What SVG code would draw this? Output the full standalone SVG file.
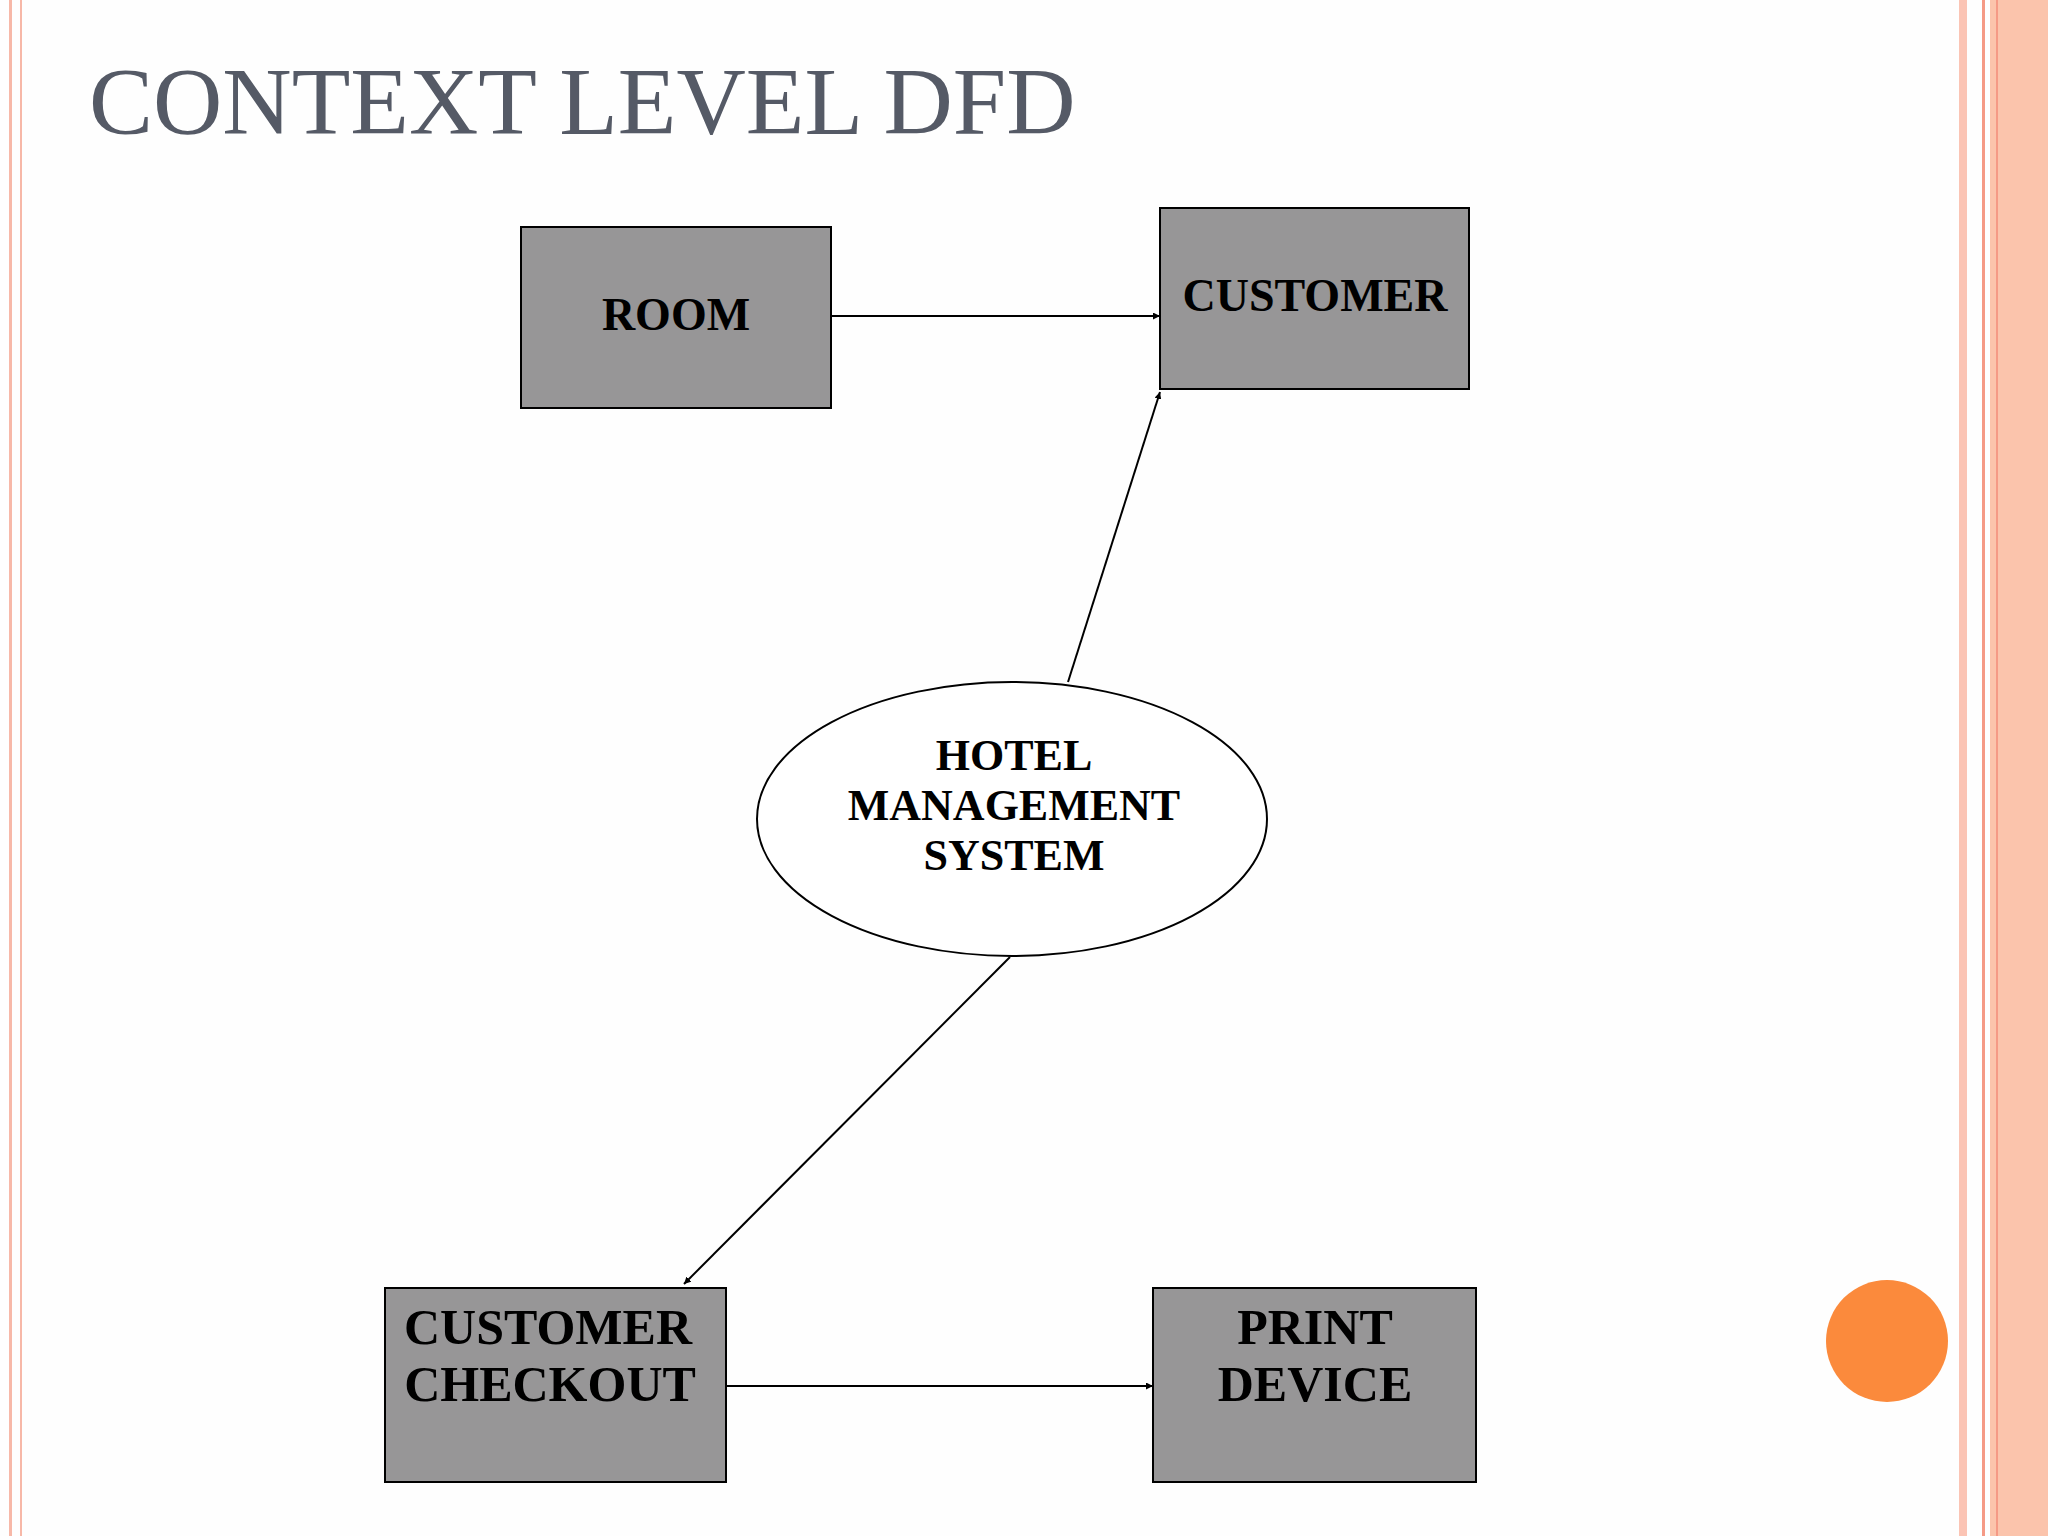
<svg xmlns="http://www.w3.org/2000/svg" width="2048" height="1536" viewBox="0 0 2048 1536">
<style>
.box{fill:#979697;stroke:#000;stroke-width:2}
.t{font-family:"Liberation Serif",serif;font-weight:bold;fill:#000;text-anchor:middle}
.c{stroke:#000;stroke-width:2;fill:none;marker-end:url(#a)}
</style>
<defs><marker id="a" viewBox="0 0 10 10" refX="10" refY="5" markerWidth="7" markerHeight="7" orient="auto" markerUnits="userSpaceOnUse"><path d="M0,0L10,5L0,10z" fill="#000"/></marker></defs>
<rect width="2048" height="1536" fill="#fefefe"/>
<rect x="9" y="0" width="3" height="1536" fill="#f7b8a8"/>
<rect x="20" y="0" width="2" height="1536" fill="#f7b8a8"/>
<rect x="1959" y="0" width="8" height="1536" fill="#fbc4b4"/>
<rect x="1982" y="0" width="3" height="1536" fill="#f59a86"/>
<rect x="1990" y="0" width="58" height="1536" fill="#fbc4ac"/>
<rect x="1996" y="0" width="2" height="1536" fill="#f59a86"/>
<text x="89" y="134" font-family="Liberation Serif,serif" font-size="96" fill="#555a66">CONTEXT LEVEL DFD</text>
<g id="connectors">
<line class="c" x1="831" y1="316" x2="1160" y2="316"/>
<line class="c" x1="1068" y1="682" x2="1160" y2="392"/>
<line class="c" x1="1010" y1="957" x2="684" y2="1284"/>
<line class="c" x1="718" y1="1386" x2="1153" y2="1386"/>
</g>
<g id="room"><rect class="box" x="521" y="227" width="310" height="181"/><text class="t" x="676" y="330" font-size="46">ROOM</text></g>
<g id="customer"><rect class="box" x="1160" y="208" width="309" height="181"/><text class="t" x="1315" y="311" font-size="46">CUSTOMER</text></g>
<g id="hms"><ellipse cx="1012" cy="819" rx="255" ry="137" fill="#fff" stroke="#000" stroke-width="2"/>
<text class="t" font-size="44"><tspan x="1014" y="770">HOTEL</tspan><tspan x="1014" y="820">MANAGEMENT</tspan><tspan x="1014" y="870">SYSTEM</tspan></text></g>
<g id="checkout"><rect class="box" x="385" y="1288" width="341" height="194"/><text class="t" font-size="50"><tspan x="548" y="1344">CUSTOMER</tspan><tspan x="550" y="1401">CHECKOUT</tspan></text></g>
<g id="print"><rect class="box" x="1153" y="1288" width="323" height="194"/><text class="t" font-size="50"><tspan x="1315" y="1344">PRINT</tspan><tspan x="1315" y="1401">DEVICE</tspan></text></g>
<circle cx="1887" cy="1341" r="61" fill="#fb8a3c"/>
</svg>
